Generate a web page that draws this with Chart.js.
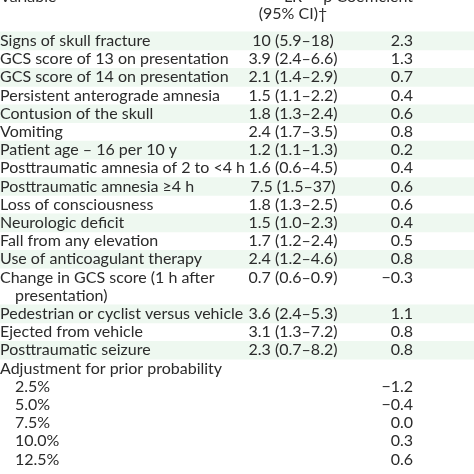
<!DOCTYPE html>
<html>
<head>
<meta charset="utf-8">
<script src="https://cdn.jsdelivr.net/npm/chart.js@4.4.0/dist/chart.umd.min.js"></script>
<style>
  body { margin: 0; background: #fff; }
</style>
</head>
<body>
<canvas id="tableChart" width="474" height="474"></canvas>
<script>
// Row labels (predictors), LR text and beta coefficients
const labels = [
  "Signs of skull fracture",
  "GCS score of 13 on presentation",
  "GCS score of 14 on presentation",
  "Persistent anterograde amnesia",
  "Contusion of the skull",
  "Vomiting",
  "Patient age \u2013 16 per 10 y",
  "Posttraumatic amnesia of 2 to <4 h",
  "Posttraumatic amnesia \u22654 h",
  "Loss of consciousness",
  "Neurologic deficit",
  "Fall from any elevation",
  "Use of anticoagulant therapy",
  "Change in GCS score (1 h after|presentation)",
  "Pedestrian or cyclist versus vehicle",
  "Ejected from vehicle",
  "Posttraumatic seizure"
];
const lrValues = [
  "10 (5.9\u201318)", "3.9 (2.4\u20136.6)", "2.1 (1.4\u20132.9)", "1.5 (1.1\u20132.2)",
  "1.8 (1.3\u20132.4)", "2.4 (1.7\u20133.5)", "1.2 (1.1\u20131.3)", "1.6 (0.6\u20134.5)",
  "7.5 (1.5\u201337)", "1.8 (1.3\u20132.5)", "1.5 (1.0\u20132.3)", "1.7 (1.2\u20132.4)",
  "2.4 (1.2\u20134.6)", "0.7 (0.6\u20130.9)", "3.6 (2.4\u20135.3)", "3.1 (1.3\u20137.2)",
  "2.3 (0.7\u20138.2)"
];
const betaValues = [2.3, 1.3, 0.7, 0.4, 0.6, 0.8, 0.2, 0.4, 0.6, 0.6, 0.4, 0.5, 0.8, -0.3, 1.1, 0.8, 0.8];

// Prior probability adjustment
const priorLabels = ["2.5%", "5.0%", "7.5%", "10.0%", "12.5%"];
const priorBeta = [-1.2, -0.4, 0.0, 0.3, 0.6];

// Build the table lines, one per slot
const lines = [];
lines.push({ slot: -2.45, label: "Variable", lr: "LR", beta: "\u03b2 Coefficient" });
lines.push({ slot: -1.5, label: "", lr: "(95% CI)\u2020", beta: "" });
let slot = 0;
const stripes = [];
labels.forEach((lab, i) => {
  const parts = lab.split("|");
  if (i % 2 === 0) stripes.push({ x: [0, 474], y: slot });
  lines.push({ slot: slot, label: parts[0], lr: lrValues[i], beta: betaValues[i] });
  slot++;
  for (let k = 1; k < parts.length; k++) {
    lines.push({ slot: slot, label: parts[k], indent: true, lr: "", beta: "" });
    slot++;
  }
});
lines.push({ slot: slot++, label: "Adjustment for prior probability", lr: "", beta: "" });
priorLabels.forEach((lab, i) => {
  lines.push({ slot: slot++, label: lab, indent: true, lr: "", beta: priorBeta[i] });
});

function fmtBeta(v) {
  if (typeof v !== "number") return v;
  return (v < 0 ? "\u2212" + Math.abs(v).toFixed(1) : v.toFixed(1));
}

// Plugin that writes the table text at the scale positions
const tableText = {
  id: 'tableText',
  afterDatasetsDraw(chart) {
    const ctx = chart.ctx;
    const xs = chart.scales.x, ys = chart.scales.y;
    ctx.save();
    ctx.font = '16px Lato, "DejaVu Sans", sans-serif';
    ctx.fillStyle = '#2b2b2b';
    ctx.textBaseline = 'middle';
    lines.forEach(l => {
      const y = ys.getPixelForValue(l.slot);
      ctx.textAlign = 'left';
      ctx.fillText(l.label, xs.getPixelForValue(l.indent ? 15 : 0), y);
      ctx.textAlign = 'center';
      ctx.fillText(l.lr, xs.getPixelForValue(293), y);
      ctx.textAlign = 'right';
      ctx.fillText(fmtBeta(l.beta), xs.getPixelForValue(413), y);
    });
    ctx.restore();
  }
};

new Chart(document.getElementById('tableChart'), {
  type: 'bar',
  data: {
    datasets: [{
      data: stripes,
      backgroundColor: '#eef8f0',
      borderWidth: 0,
      barThickness: 18
    }]
  },
  options: {
    indexAxis: 'y',
    responsive: false,
    animation: false,
    layout: { padding: 0 },
    plugins: { legend: { display: false }, tooltip: { enabled: false } },
    scales: {
      x: { type: 'linear', min: 0, max: 474, display: false, offset: false },
      y: { type: 'linear', min: -2.25, max: 23.8, reverse: true, display: false, offset: false }
    }
  },
  plugins: [tableText]
});
</script>
</body>
</html>
